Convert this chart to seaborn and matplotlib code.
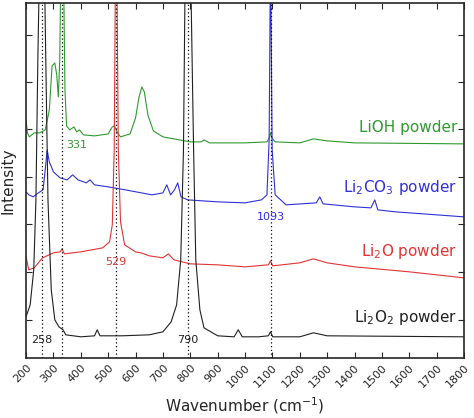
import numpy as np
import pandas as pd
import seaborn as sns
import matplotlib.pyplot as plt

# spectra (wavenumber, height in picture pixels from top)
lioh_x = [200, 205, 212, 230, 250, 270, 285, 295, 305, 312, 318, 323, 328, 331, 336, 342, 348, 360, 375, 385, 395, 410, 450, 500, 515, 523, 532, 545, 580, 600, 612, 623, 632, 645, 665, 700, 800, 840, 850, 870, 1000, 1080, 1088, 1093, 1098, 1110, 1200, 1250, 1300, 1400, 1800]
lioh_y = [120, 133, 137, 133, 133, 130, 110, 66, 63, 75, 97, 60, -50, -50, -50, 90, 126, 130, 127, 132, 130, 135, 136, 134, 127, 126, 132, 137, 134, 118, 98, 87, 92, 115, 131, 137, 142, 142, 140, 143, 143, 142, 138, 133, 138, 142, 143, 139, 141, 143, 144]

li2co3_x = [200, 210, 226, 245, 262, 270, 277, 285, 300, 324, 350, 370, 390, 420, 434, 450, 500, 563, 660, 700, 714, 728, 742, 754, 766, 790, 900, 1000, 1060, 1080, 1088, 1093, 1099, 1110, 1150, 1260, 1273, 1285, 1400, 1460, 1474, 1485, 1550, 1800]
li2co3_y = [192, 195, 197, 193, 190, 170, 150, 162, 172, 178, 180, 175, 180, 183, 180, 185, 187, 190, 195, 193, 185, 195, 190, 183, 197, 200, 202, 203, 200, 195, 140, -50, 150, 195, 205, 203, 197, 204, 207, 208, 200, 210, 212, 217]

li2o_x = [200, 210, 230, 260, 300, 325, 331, 340, 400, 480, 505, 515, 522, 527, 531, 537, 545, 560, 600, 620, 650, 700, 720, 740, 800, 900, 1000, 1085, 1093, 1101, 1200, 1250, 1300, 1400, 1600, 1800]
li2o_y = [257, 270, 268, 258, 253, 252, 249, 254, 252, 248, 242, 225, 150, -50, -50, 150, 222, 245, 252, 253, 256, 258, 254, 260, 264, 265, 267, 265, 261, 266, 263, 259, 263, 267, 272, 278]

li2o2_x = [200, 215, 228, 236, 243, 250, 258, 266, 272, 280, 292, 305, 320, 335, 345, 400, 450, 460, 470, 550, 650, 700, 730, 750, 765, 775, 782, 790, 800, 812, 820, 835, 850, 900, 960, 975, 990, 1050, 1085, 1093, 1101, 1200, 1250, 1300, 1800]
li2o2_y = [317, 305, 270, 200, 60, -50, -50, -50, 60, 200, 290, 320, 327, 330, 335, 337, 336, 330, 336, 336, 335, 332, 322, 305, 260, 150, -50, -50, -50, 150, 260, 310, 328, 336, 337, 330, 337, 337, 336, 332, 337, 337, 333, 336, 337]

peak_marks = [258, 331, 529, 790, 1093]

PLOT_TOP = 360

series = [
    ("LiOH", lioh_x, lioh_y, "#2f9a2f"),
    ("Li2CO3", li2co3_x, li2co3_y, "#3030d8"),
    ("Li2O", li2o_x, li2o_y, "#e03434"),
    ("Li2O2", li2o2_x, li2o2_y, "#202020"),
]
frames = []
for name, xs, ys, _ in series:
    frames.append(pd.DataFrame({"wavenumber": xs,
                                "intensity": PLOT_TOP - np.array(ys),
                                "sample": name}))
df = pd.concat(frames)

sns.set_style("ticks")
plt.rcParams['font.family'] = ['DejaVu Sans']
fig = plt.figure(figsize=(4.74, 4.18), dpi=100)
ax = fig.add_axes([0.055, 0.144, 0.924, 0.849])

sns.lineplot(data=df, x="wavenumber", y="intensity", hue="sample",
             palette={s[0]: s[3] for s in series}, linewidth=0.8,
             legend=False, sort=False, ax=ax, estimator=None)

for m in peak_marks:
    ax.axvline(m, color="black", linestyle=(0, (1, 2)), linewidth=0.9)

ax.set_xlim(200, 1800)
ax.set_ylim(2, 357)
ax.set_xticks(np.arange(200, 1801, 100))
ax.set_xticklabels(np.arange(200, 1801, 100), rotation=45, fontsize=8,
                   ha="right", rotation_mode="anchor")
ax.set_yticks([40, 88, 136, 183, 231, 278, 325])
ax.set_yticklabels([])
ax.tick_params(direction="in", top=True, right=True, length=4)
ax.set_xlabel("Wavenumber (cm$^{-1}$)", fontsize=11)
ax.set_ylabel("Intensity", fontsize=11)
for sp in ax.spines.values():
    sp.set_linewidth(1.2)

ax.text(1775, PLOT_TOP - 128, "LiOH powder", color="#2f9a2f", ha="right", va="center", fontsize=11)
ax.text(1775, PLOT_TOP - 188, "Li$_2$CO$_3$ powder", color="#3030d8", ha="right", va="center", fontsize=11)
ax.text(1775, PLOT_TOP - 252, "Li$_2$O powder", color="#e03434", ha="right", va="center", fontsize=11)
ax.text(1775, PLOT_TOP - 318, "Li$_2$O$_2$ powder", color="#202020", ha="right", va="center", fontsize=11)

ax.text(258, PLOT_TOP - 340, "258", color="#202020", ha="center", va="center", fontsize=8)
ax.text(345, PLOT_TOP - 145, "331", color="#2f9a2f", ha="left", va="center", fontsize=8)
ax.text(529, PLOT_TOP - 262, "529", color="#e03434", ha="center", va="center", fontsize=8)
ax.text(790, PLOT_TOP - 340, "790", color="#202020", ha="center", va="center", fontsize=8)
ax.text(1093, PLOT_TOP - 217, "1093", color="#3030d8", ha="center", va="center", fontsize=8)

fig.savefig("out.png", dpi=100)
